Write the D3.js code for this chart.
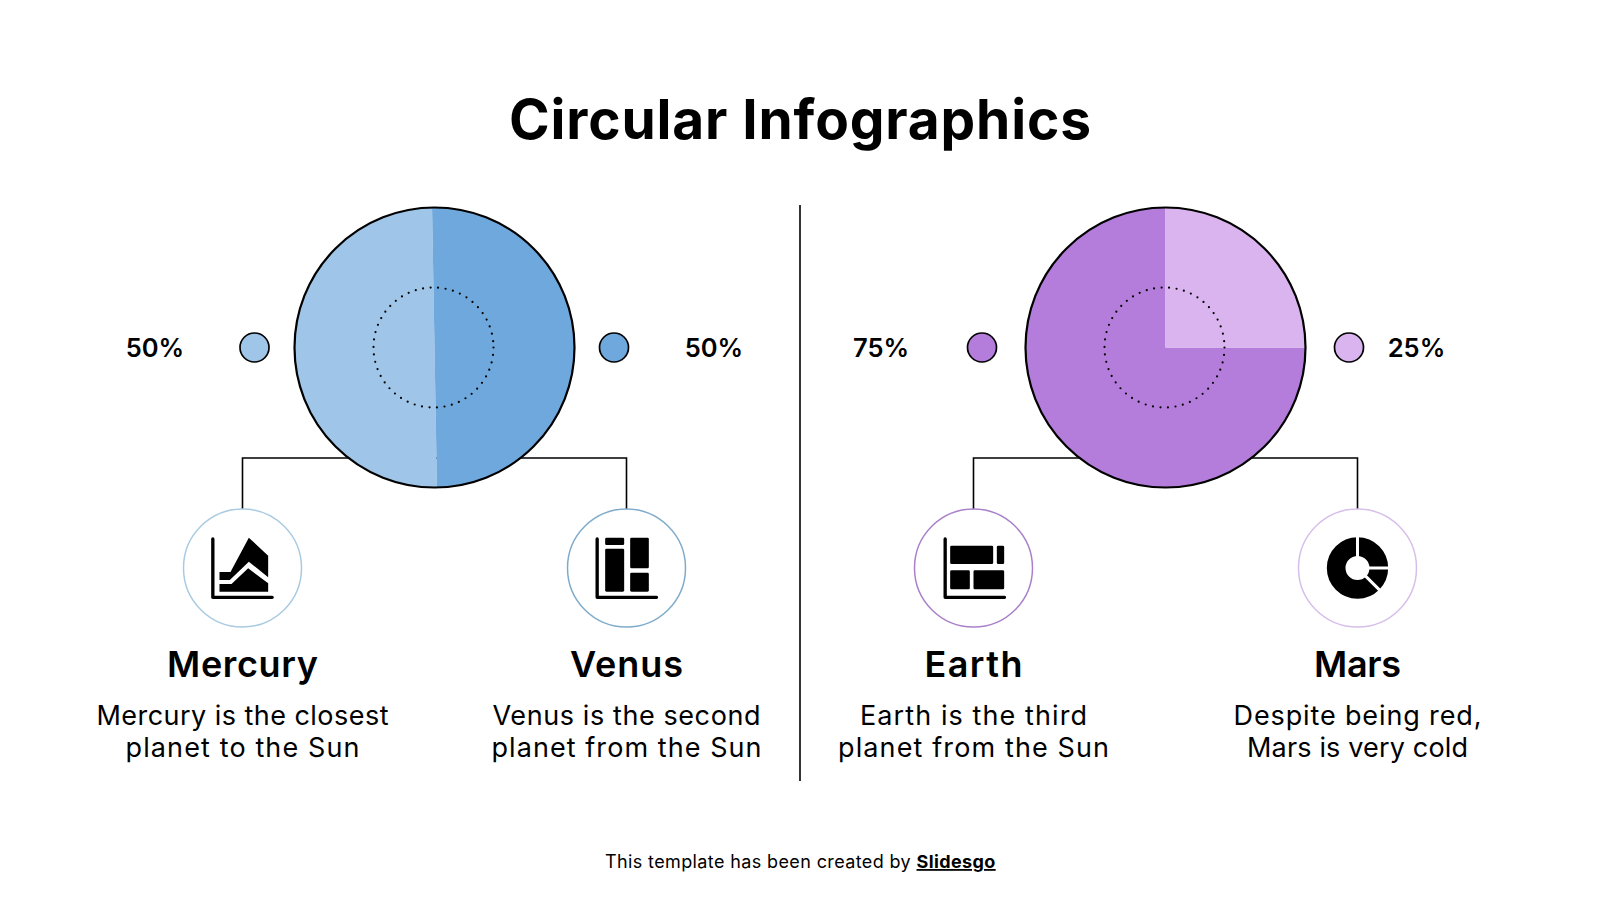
<!DOCTYPE html>
<html>
<head>
<meta charset="utf-8">
<script src="https://cdn.jsdelivr.net/npm/d3@7"></script>
<style>
  html, body { margin: 0; background: #fff; }
  text { font-family: Inter, "Noto Sans", sans-serif; fill: #000; }
  .title { font-size: 55px; font-weight: 700; text-anchor: middle; }
  .name { font-size: 36px; font-weight: 600; text-anchor: middle; }
  .desc { font-size: 27px; font-weight: 400; text-anchor: middle; }
  .pct { font-size: 25.5px; font-weight: 600; text-anchor: middle; }
  .foot { font-size: 18px; font-weight: 400; letter-spacing: 0.38px; }
</style>
</head>
<body>
<div id="chart"></div>
<script>
// data
const planets = ["Mercury", "Venus", "Earth", "Mars"];
const descriptions = [
    ["Mercury is the closest", "planet to the Sun"],
    ["Venus is the second", "planet from the Sun"],
    ["Earth is the third", "planet from the Sun"],
    ["Despite being red,", "Mars is very cold"]
];
const blue_values = [50, 50];
const purple_values = [75, 25];
const blue_labels = ["50%", "50%"];
const purple_labels = ["75%", "25%"];

// colours
const blue_colors = ["#9fc5e8", "#6fa8dc"];
const purple_colors = ["#b47cdb", "#d9b4ee"];
const ring_colors = ["#a9cbe2", "#7faccb", "#a981c9", "#d6bfea"];

// layout
const width = 1600, height = 900;
const pie_y = 347.5, pie_r = 140, dot_r = 60;
const ring_y = 568, ring_r = 59, elbow_y = 458;
const column_x = d3.scaleOrdinal().domain(planets).range([242.5, 626.5, 973.5, 1357.5]);
// fallback font is narrower than the original, so text runs are stretched to these widths
const name_widths = [151, 113, 98, 87];
const desc_widths = [[292, 234], [268, 270], [227, 271], [248, 221]];

const svg = d3.select("#chart").append("svg")
    .attr("width", width)
    .attr("height", height)
    .style("display", "block");

svg.append("text").attr("class", "title")
    .attr("x", 800).attr("y", 139)
    .attr("textLength", 582)
    .text("Circular Infographics");

// divider
svg.append("line")
    .attr("x1", 800).attr("x2", 800)
    .attr("y1", 205).attr("y2", 781)
    .attr("stroke", "#000").attr("stroke-width", 1.6);

const arc = d3.arc().innerRadius(0).outerRadius(pie_r);

function draw_group(cx, values, colors, labels, start, names, dot_x, label_x) {
    // elbow from the pie down to both rings
    const left = column_x(names[0]), right = column_x(names[1]);
    svg.append("path")
        .attr("d", d3.line()([[left, ring_y - ring_r], [left, elbow_y], [right, elbow_y], [right, ring_y - ring_r]]))
        .attr("fill", "none").attr("stroke", "#000").attr("stroke-width", 1.6);

    const pie = d3.pie().sort(null).startAngle(start).endAngle(start + 2 * Math.PI);
    const g = svg.append("g").attr("transform", `translate(${cx},${pie_y})`);

    g.selectAll(".slice")
        .data(pie(values))
        .enter().append("path")
        .attr("class", "slice")
        .attr("d", arc)
        .attr("fill", (d, i) => colors[i]);

    g.append("circle").attr("r", pie_r)
        .attr("fill", "none").attr("stroke", "#000").attr("stroke-width", 2.2);

    g.append("circle").attr("cx", -1).attr("r", dot_r)
        .attr("fill", "none").attr("stroke", "#000").attr("stroke-width", 2.2)
        .attr("stroke-linecap", "round").attr("stroke-dasharray", "0 7.55");

    // legend dots and percent labels
    svg.selectAll(null).data(values).enter().append("circle")
        .attr("cx", (d, i) => dot_x[i]).attr("cy", pie_y).attr("r", 14.5)
        .attr("fill", (d, i) => colors[i])
        .attr("stroke", "#000").attr("stroke-width", 1.7);

    svg.selectAll(null).data(labels).enter().append("text")
        .attr("class", "pct")
        .attr("x", (d, i) => label_x[i]).attr("y", 357)
        .text(d => d);
}

draw_group(434.5, blue_values, blue_colors, blue_labels, 179 * Math.PI / 180, planets.slice(0, 2), [254.5, 614], [155, 714]);
draw_group(1165.5, purple_values, purple_colors, purple_labels, Math.PI / 2, planets.slice(2), [982, 1349], [881, 1416.5]);

// icon rings and captions
const column = svg.selectAll(".column")
    .data(planets)
    .enter().append("g")
    .attr("class", "column")
    .attr("transform", d => `translate(${column_x(d)},0)`);

column.append("circle")
    .attr("cy", ring_y).attr("r", ring_r)
    .attr("fill", "#fff")
    .attr("stroke", (d, i) => ring_colors[i]).attr("stroke-width", 1.5);

column.append("text").attr("class", "name")
    .attr("y", 677)
    .attr("textLength", (d, i) => name_widths[i])
    .text(d => d);

column.each(function(d, i) {
    d3.select(this).selectAll(".desc")
        .data(descriptions[i])
        .enter().append("text").attr("class", "desc")
        .attr("y", (line, k) => 725 + k * 32)
        .attr("textLength", (line, k) => desc_widths[i][k])
        .text(line => line);
});

// icons, drawn centred on each ring, units are 1/3 px
const icons = column.append("g")
    .attr("transform", `translate(0,${ring_y}) scale(${1 / 3})`);

function axis_path(x0) {
    return `M${x0},-87V88H${x0 + 178}`;
}
function add_axis(icon, x0) {
    icon.append("path").attr("d", axis_path(x0))
        .attr("fill", "none").attr("stroke", "#000")
        .attr("stroke-width", 10).attr("stroke-linecap", "round").attr("stroke-linejoin", "round");
}
function add_rects(icon, rects) {
    icon.selectAll("rect").data(rects).enter().append("rect")
        .attr("x", d => d[0]).attr("y", d => d[1])
        .attr("width", d => d[2]).attr("height", d => d[3])
        .attr("rx", 4).attr("fill", "#000");
}

// Mercury: area chart
const mercury = icons.filter(d => d == "Mercury");
add_axis(mercury, -89);
mercury.append("path").attr("fill", "#000")
    .attr("d", "M-69,36V12H-36L19,-91L77,-37V28L19,-19L-38,36Z");
mercury.append("path").attr("fill", "#000")
    .attr("d", "M-69,48H-33L17,1L77,46V71H-69Z");

// Venus: stacked bars
const venus = icons.filter(d => d == "Venus");
add_axis(venus, -88);
add_rects(venus, [[-64, -91, 57, 22], [-64, -58, 57, 129], [11, -91, 56, 92], [11, 14, 56, 57]]);

// Earth: horizontal bars
const earth = icons.filter(d => d == "Earth");
add_axis(earth, -85);
add_rects(earth, [[-70, -67, 129, 55], [70, -67, 22, 55], [-70, 7, 59, 57], [0, 7, 92, 57]]);

// Mars: donut
const mars = icons.filter(d => d == "Mars");
mars.append("circle").attr("r", 64).attr("fill", "none")
    .attr("stroke", "#000").attr("stroke-width", 56);
mars.append("path").attr("fill", "none").attr("stroke", "#fff").attr("stroke-width", 9)
    .attr("d", "M0,-95V-30M32,0H96M22,22L68,68");

// footer
const foot = svg.append("text").attr("class", "foot")
    .attr("x", 605).attr("y", 868);
foot.append("tspan").text("This template has been created by ");
foot.append("tspan")
    .style("font-weight", 700)
    .style("text-decoration", "underline")
    .text("Slidesgo");
</script>
</body>
</html>
